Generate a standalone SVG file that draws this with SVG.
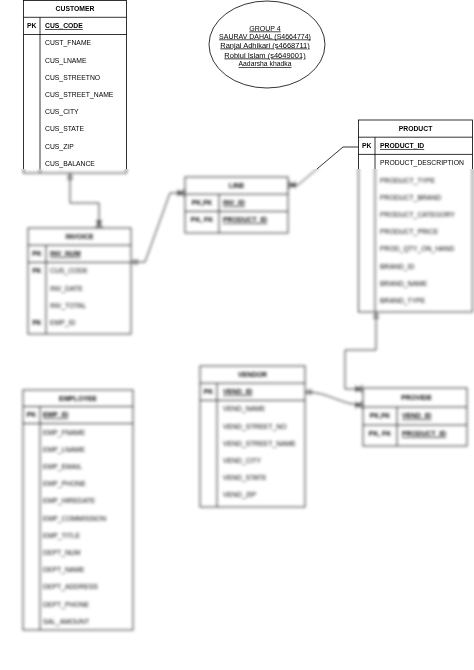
<svg xmlns="http://www.w3.org/2000/svg" width="474" height="670" viewBox="0 0 474 670">
<defs>
<style>
.bx{fill:#fff;stroke:#000;stroke-width:0.8}
.ln{fill:none;stroke:#000;stroke-width:0.8}
.cn{fill:none;stroke:#000;stroke-width:0.8}
text{font-family:"Liberation Sans",Arial,sans-serif;font-size:6.8px;fill:#000}
.h{font-weight:bold;text-anchor:middle}
.k{font-weight:bold;text-anchor:middle}
.pk{font-weight:bold;text-decoration:underline}
.el{text-anchor:middle;text-decoration:underline}
</style>
<marker id="one" markerUnits="userSpaceOnUse" markerWidth="12" markerHeight="12" refX="10" refY="6" orient="auto-start-reverse">
<path d="M4,3 V9 M7,3 V9" fill="none" stroke="#000" stroke-width="0.8"/>
</marker>
<marker id="many" markerUnits="userSpaceOnUse" markerWidth="12" markerHeight="12" refX="10" refY="6" orient="auto-start-reverse">
<path d="M3,6 L10,2.5 M3,6 L10,9.5 M3,6 H10 M3,2.5 V9.5" fill="none" stroke="#000" stroke-width="0.8"/>
</marker>
<filter id="lower" filterUnits="userSpaceOnUse" primitiveUnits="userSpaceOnUse" x="0" y="0" width="474" height="670" color-interpolation-filters="sRGB">
<feGaussianBlur in="SourceGraphic" stdDeviation="1.7" x="0" y="169" width="474" height="501" result="b"/>
<feOffset in="SourceGraphic" dx="0" dy="0" x="0" y="0" width="474" height="169" result="t"/>
<feMerge><feMergeNode in="b"/><feMergeNode in="t"/></feMerge>
</filter>
</defs>
<rect x="0" y="0" width="474" height="670" fill="#fff"/>
<g filter="url(#lower)">
<g id="connectors">
<path class="cn" d="M70,173 V203 H99 V228" marker-start="url(#one)" marker-end="url(#many)"/>
<path class="cn" d="M131,262 H145 L170,193 H185" marker-start="url(#one)" marker-end="url(#many)"/>
<path class="cn" d="M288,185 H298 L343,147 H358.5" marker-start="url(#many)"/>
<path class="cn" d="M376,312 V350 H345 V389 H363" marker-start="url(#one)" marker-end="url(#many)"/>
<path class="cn" d="M305,392 C330,392 340,405 363,405" marker-start="url(#one)" marker-end="url(#many)"/>
</g>
<g id="group-info">
<ellipse cx="267" cy="44.5" rx="58" ry="43.5" fill="#fff" stroke="#000" stroke-width="0.8"/>
<text class="el" x="265" y="30.5" style="font-size:7px">GROUP 4</text>
<text class="el" x="265" y="38.5" style="font-size:7px">SAURAV DAHAL (S4664774)</text>
<text class="el" x="265" y="47.5" style="font-size:7.5px">Ranjal Adhikari (s4668711)</text>
<text class="el" x="265" y="57.5" style="font-size:7.5px">Robiul Islam (s4649001)</text>
<text class="el" x="265" y="66" style="font-size:6.8px">Aadarsha khadka</text>
</g>
<g id="customer">
<rect class="bx" x="23.5" y="0.5" width="103" height="172.5"/>
<path class="ln" d="M23.5,17.3 H126.5 M23.5,34.5 H126.5 M40,17.3 V173"/>
<text class="h" x="75" y="11.2">CUSTOMER</text>
<text class="k" x="31.7" y="28.2">PK</text>
<text class="pk" x="45" y="28.2">CUS_CODE</text>
<text x="45" y="45.4">CUST_FNAME</text>
<text x="45" y="62.6">CUS_LNAME</text>
<text x="45" y="79.8">CUS_STREETNO</text>
<text x="45" y="97">CUS_STREET_NAME</text>
<text x="45" y="114.2">CUS_CITY</text>
<text x="45" y="131.4">CUS_STATE</text>
<text x="45" y="148.6">CUS_ZIP</text>
<text x="45" y="165.8">CUS_BALANCE</text>
</g>
<g id="product">
<rect class="bx" x="358.5" y="120" width="114" height="192"/>
<path class="ln" d="M358.5,137.2 H472.5 M358.5,154.4 H472.5 M375,137.2 V312"/>
<text class="h" x="415.5" y="131">PRODUCT</text>
<text class="k" x="366.8" y="148.2">PK</text>
<text class="pk" x="380" y="148.2">PRODUCT_ID</text>
<text x="380" y="165.4">PRODUCT_DESCRIPTION</text>
<text x="380" y="182.6">PRODUCT_TYPE</text>
<text x="380" y="199.8">PRODUCT_BRAND</text>
<text x="380" y="217">PRODUCT_CATEGORY</text>
<text x="380" y="234.2">PRODUCT_PRICE</text>
<text x="380" y="251.4">PROD_QTY_ON_HAND</text>
<text x="380" y="268.6">BRAND_ID</text>
<text x="380" y="285.8">BRAND_NAME</text>
<text x="380" y="303">BRAND_TYPE</text>
</g>
<g id="line">
<rect class="bx" x="185" y="177" width="103" height="56"/>
<path class="ln" d="M185,194.2 H288 M185,211.4 H288 M219,194.2 V233"/>
<text class="h" x="236.5" y="188.4">LINE</text>
<text class="k" x="202" y="205.2">PK,FK</text>
<text class="pk" x="223" y="205.2">INV_ID</text>
<text class="k" x="202" y="222.4">PK, FK</text>
<text class="pk" x="223" y="222.4">PRODUCT_ID</text>
</g>
<g id="invoice">
<rect class="bx" x="28" y="228" width="103" height="106"/>
<path class="ln" d="M28,245.2 H131 M28,262.4 H131 M46,245.2 V334"/>
<text class="h" x="79.5" y="239">INVOICE</text>
<text class="k" x="37" y="256.2">PK</text>
<text class="pk" x="50" y="256.2">INV_NUM</text>
<text class="k" x="37" y="273.4">FK</text>
<text x="50" y="273.4">CUS_CODE</text>
<text x="50" y="290.6">INV_DATE</text>
<text x="50" y="307.8">INV_TOTAL</text>
<text class="k" x="37" y="325">FK</text>
<text x="50" y="325">EMP_ID</text>
</g>
<g id="vendor">
<rect class="bx" x="200" y="366" width="105" height="141"/>
<path class="ln" d="M200,383.2 H305 M200,400.4 H305 M217,383.2 V507"/>
<text class="h" x="252.5" y="377.2">VENDOR</text>
<text class="k" x="208.5" y="394.2">PK</text>
<text class="pk" x="223" y="394.2">VEND_ID</text>
<text x="223" y="411.4">VEND_NAME</text>
<text x="223" y="428.6">VEND_STREET_NO</text>
<text x="223" y="445.8">VEND_STREET_NAME</text>
<text x="223" y="463">VEND_CITY</text>
<text x="223" y="480.2">VEND_STATE</text>
<text x="223" y="497.4">VEND_ZIP</text>
</g>
<g id="provide">
<rect class="bx" x="363" y="388" width="104" height="58"/>
<path class="ln" d="M363,407 H467 M363,425 H467 M397,407 V446"/>
<text class="h" x="416.5" y="400.4">PROVIDE</text>
<text class="k" x="380" y="418.4">PK,FK</text>
<text class="pk" x="402" y="418.4">VEND_ID</text>
<text class="k" x="380" y="436">PK, FK</text>
<text class="pk" x="402" y="436">PRODUCT_ID</text>
</g>
<g id="employee">
<rect class="bx" x="23" y="390" width="110" height="240"/>
<path class="ln" d="M23,406.5 H133 M23,423.5 H133 M40,406.5 V630"/>
<text class="h" x="78" y="400.6">EMPLOYEE</text>
<text class="k" x="31.5" y="417.4">PK</text>
<text class="pk" x="43" y="417.4">EMP_ID</text>
<text x="43" y="434.5">EMP_FNAME</text>
<text x="43" y="451.7">EMP_LNAME</text>
<text x="43" y="468.9">EMP_EMAIL</text>
<text x="43" y="486.1">EMP_PHONE</text>
<text x="43" y="503.3">EMP_HIREDATE</text>
<text x="43" y="520.5">EMP_COMMISSION</text>
<text x="43" y="537.7">EMP_TITLE</text>
<text x="43" y="554.9">DEPT_NUM</text>
<text x="43" y="572.1">DEPT_NAME</text>
<text x="43" y="589.3">DEPT_ADDRESS</text>
<text x="43" y="606.5">DEPT_PHONE</text>
<text x="43" y="623.7">SAL_AMOUNT</text>
</g>
</g>
</svg>
